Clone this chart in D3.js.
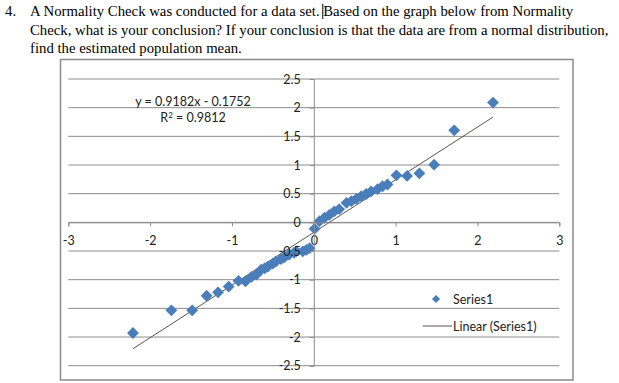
<!DOCTYPE html>
<html>
<head>
<meta charset="utf-8">
<script src="https://cdn.jsdelivr.net/npm/d3@7"></script>
<style>
  body { margin: 0; background: #fff; }
  svg { display: block; }
</style>
</head>
<body>
<div id="chart"></div>
<script>
// question text above the chart
const questionLines = [
  "A Normality Check was conducted for a data set. Based on the graph below from Normality",
  "Check, what is your conclusion? If your conclusion is that the data are from a normal distribution,",
  "find the estimated population mean."
];

// Series1
const xVals = [-2.21, -1.74, -1.486, -1.31, -1.17, -1.04, -0.92, -0.835, -0.76, -0.70, -0.643, -0.60, -0.56,
  -0.50, -0.46, -0.40, -0.36, -0.30, -0.24, -0.215, -0.134, -0.09, -0.05, 0.01, 0.07, 0.13, 0.19, 0.25,
  0.31, 0.40, 0.46, 0.52, 0.58, 0.64, 0.70, 0.78, 0.84, 0.90, 1.01, 1.14, 1.29, 1.47, 1.716, 2.19];
const yVals = [-1.93, -1.535, -1.535, -1.28, -1.22, -1.12, -1.02, -1.03, -0.95, -0.91, -0.825, -0.80, -0.77,
  -0.72, -0.68, -0.64, -0.61, -0.56, -0.53, -0.505, -0.505, -0.48, -0.45, -0.11, 0.02, 0.08, 0.13, 0.19,
  0.23, 0.34, 0.37, 0.41, 0.455, 0.495, 0.54, 0.58, 0.63, 0.66, 0.82, 0.81, 0.855, 1.006, 1.605, 2.088];

// trendline as shown on the chart
const slope = 0.9182, intercept = -0.1752;
const eqLabel = "y = 0.9182x - 0.1752";
const r2Label = "0.9812";

const xTicks = [-3, -2, -1, 0, 1, 2, 3];
const yTicks = [-2.5, -2, -1.5, -1, -0.5, 0, 0.5, 1, 1.5, 2, 2.5];
const seriesName = "Series1";
const trendName = "Linear (Series1)";

const W = 619, H = 383;
const blue = "#4a7ebb", grid = "#8c8c8c", labelFont = "Lato, 'Open Sans', sans-serif";

const svg = d3.select("#chart").append("svg")
  .attr("width", W).attr("height", H);

// question
const q = svg.append("g")
  .style("font-family", "'Liberation Serif', 'Times New Roman', serif")
  .style("font-size", "14.75px")
  .attr("fill", "#000");
q.append("text").attr("x", 5).attr("y", 16).text("4.");
const qText = q.selectAll("text.line")
  .data(questionLines)
  .join("text")
  .attr("class", "line")
  .attr("x", 30)
  .attr("y", (d, i) => 16 + i * 18.5)
  .text(d => d);

// text cursor before "Based"
const first = qText.node();
const idx = questionLines[0].indexOf("Based");
const cx = 30 + first.getSubStringLength(0, idx) - 0.5;
q.append("line")
  .attr("x1", cx).attr("x2", cx)
  .attr("y1", 4).attr("y2", 19)
  .attr("stroke", "#000").attr("stroke-width", 1);

// chart frame
svg.append("rect")
  .attr("x", 60.5).attr("y", 59.5)
  .attr("width", 512.5).attr("height", 320.5)
  .attr("fill", "#fff")
  .attr("stroke", "#8a8a8a").attr("stroke-width", 1.5);

const x = d3.scaleLinear().domain([-3, 3]).range([68.3, 559.3]);
const y = d3.scaleLinear().domain([-2.5, 2.5]).range([365.7, 79]);

// horizontal gridlines
svg.append("g")
  .selectAll("line")
  .data(yTicks)
  .join("line")
  .attr("x1", x(-3)).attr("x2", x(3))
  .attr("y1", d => y(d)).attr("y2", d => y(d))
  .attr("stroke", grid).attr("stroke-width", 1);

// x axis through y=0
const xAxis = svg.append("g")
  .attr("transform", `translate(0,${y(0)})`)
  .call(d3.axisBottom(x).tickValues(xTicks).tickSize(4).tickFormat(d => String(d)));
xAxis.select(".domain").attr("stroke", grid);
xAxis.selectAll(".tick line").attr("stroke", grid);
xAxis.selectAll(".tick text")
  .attr("y", 14)
  .style("font-family", labelFont).style("font-size", "12.5px").attr("fill", "#222");

// y axis through x=0
const yAxis = svg.append("g")
  .attr("transform", `translate(${x(0)},0)`)
  .call(d3.axisLeft(y).tickValues(yTicks).tickSize(4).tickFormat(d => String(d)));
yAxis.select(".domain").attr("stroke", grid);
yAxis.selectAll(".tick line").attr("stroke", grid);
yAxis.selectAll(".tick text")
  .attr("x", -13)
  .style("font-family", labelFont).style("font-size", "12.5px").attr("fill", "#222");

// linear trendline over the data range
const xr = d3.extent(xVals);
svg.append("line")
  .attr("x1", x(xr[0])).attr("y1", y(slope * xr[0] + intercept))
  .attr("x2", x(xr[1])).attr("y2", y(slope * xr[1] + intercept))
  .attr("stroke", "#5a5550").attr("stroke-width", 1);

// points
const diamond = d3.symbol().type(d3.symbolSquare).size(70);
svg.append("g")
  .selectAll("path")
  .data(xVals.map((v, i) => [v, yVals[i]]))
  .join("path")
  .attr("d", diamond)
  .attr("transform", d => `translate(${x(d[0])},${y(d[1])}) rotate(45)`)
  .attr("fill", blue);

// axis labels on top of the points, like Excel
xAxis.raise();
yAxis.raise();
xAxis.select(".domain").lower();
yAxis.select(".domain").lower();

// equation label
const eq = svg.append("g")
  .style("font-family", labelFont).style("font-size", "12.5px").attr("fill", "#222")
  .attr("text-anchor", "middle");
eq.append("text").attr("x", 193).attr("y", 106).text(eqLabel);
const r = eq.append("text").attr("x", 193).attr("y", 122);
r.append("tspan").text("R");
r.append("tspan").attr("dy", -4).style("font-size", "8px").text("2");
r.append("tspan").attr("dy", 4).text(" = " + r2Label);

// legend
const lg = svg.append("g")
  .style("font-family", labelFont).style("font-size", "12.5px").attr("fill", "#222");
lg.append("path")
  .attr("d", d3.symbol().type(d3.symbolSquare).size(34))
  .attr("transform", "translate(436,299) rotate(45)")
  .attr("fill", blue);
lg.append("text").attr("x", 453).attr("y", 303.5).text(seriesName);
lg.append("line")
  .attr("x1", 422.5).attr("x2", 452).attr("y1", 326).attr("y2", 326)
  .attr("stroke", "#5a5550").attr("stroke-width", 1);
lg.append("text").attr("x", 453).attr("y", 330.5).text(trendName);
</script>
</body>
</html>
